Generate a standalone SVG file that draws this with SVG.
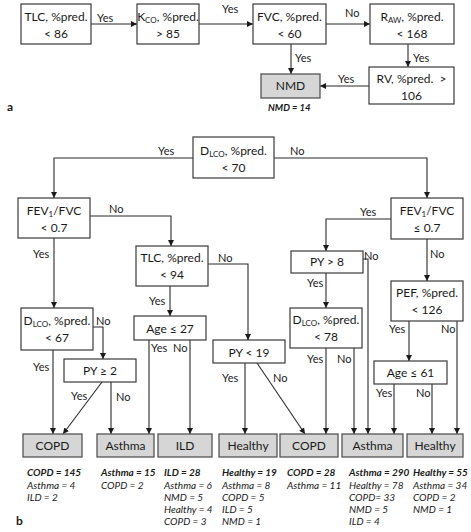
<svg xmlns="http://www.w3.org/2000/svg" width="471" height="532" viewBox="0 0 471 532">
<style>
text{font-family:Lato,"Liberation Sans",sans-serif;fill:#1a1a1a}
.bx{fill:#fff;stroke:#3a3a3a;stroke-width:1.2}
.lf{fill:#d6d6d6;stroke:#555;stroke-width:1.3}
.t{font-size:12px;text-anchor:middle}
.l{font-size:11px}
.c{font-size:10px;font-style:italic}
.cb{font-size:10px;font-style:italic;font-weight:bold}
.cn path,.cn polyline,.cn line{fill:none;stroke:#2a2a2a;stroke-width:1.1;marker-end:url(#ah)}
.sub{font-size:8px}
.pl{font-size:12px;font-weight:bold}
</style>
<defs>
<marker id="ah" markerUnits="userSpaceOnUse" markerWidth="8" markerHeight="8" refX="6" refY="3" orient="auto">
<path d="M0,0 L6,3 L0,6 Z" fill="#1a1a1a"/>
</marker>
</defs>
<rect width="471" height="532" fill="#fff"/>

<g id="connectors" class="cn">
<!-- part a -->
<line x1="91" y1="24" x2="137" y2="24"/>
<line x1="199" y1="24" x2="253" y2="24"/>
<line x1="326" y1="24" x2="370" y2="24"/>
<line x1="291" y1="44" x2="291" y2="74"/>
<line x1="408" y1="44" x2="408" y2="67"/>
<line x1="369" y1="86" x2="320" y2="86"/>
<!-- part b -->
<polyline points="193,158 54,158 54,198"/>
<polyline points="274,158 427,158 427,198"/>
<polyline points="90,216 171,216 171,246"/>
<line x1="54" y1="238" x2="54" y2="308"/>
<polyline points="208,264 248,264 248,340"/>
<line x1="170" y1="286" x2="170" y2="316"/>
<line x1="149" y1="340" x2="149" y2="434"/>
<line x1="190" y1="340" x2="190" y2="434"/>
<polyline points="93,327 103,327 103,359"/>
<line x1="53" y1="350" x2="53" y2="434"/>
<line x1="102" y1="382" x2="63" y2="434"/>
<line x1="111" y1="382" x2="111" y2="434"/>
<line x1="245" y1="363" x2="245" y2="434"/>
<line x1="257" y1="363" x2="305" y2="434"/>
<line x1="326" y1="348" x2="326" y2="434"/>
<line x1="354" y1="348" x2="354" y2="434"/>
<polyline points="391,219 326,219 326,251"/>
<line x1="326" y1="273" x2="326" y2="308"/>
<polyline points="363,259 368,259 368,434"/>
<line x1="427" y1="239" x2="427" y2="281"/>
<line x1="409" y1="321" x2="409" y2="361"/>
<line x1="457" y1="321" x2="457" y2="434"/>
<line x1="394" y1="384" x2="394" y2="434"/>
<line x1="432" y1="384" x2="432" y2="434"/>
</g>

<g id="edge-labels" class="l">
<text x="97" y="22">Yes</text>
<text x="222" y="13">Yes</text>
<text x="345" y="17">No</text>
<text x="295" y="62">Yes</text>
<text x="413" y="62">Yes</text>
<text x="338" y="83">Yes</text>
<text x="158" y="155">Yes</text>
<text x="290" y="155">No</text>
<text x="109" y="213">No</text>
<text x="33" y="258">Yes</text>
<text x="218" y="262">No</text>
<text x="149" y="305">Yes</text>
<text x="151" y="352">Yes</text>
<text x="173" y="352">No</text>
<text x="96" y="325">No</text>
<text x="33" y="371">Yes</text>
<text x="71" y="400">Yes</text>
<text x="116" y="401">No</text>
<text x="222" y="382">Yes</text>
<text x="273" y="382">No</text>
<text x="307" y="363">Yes</text>
<text x="337" y="363">No</text>
<text x="360" y="216">Yes</text>
<text x="307" y="287">Yes</text>
<text x="364" y="260">No</text>
<text x="430" y="258">No</text>
<text x="389" y="333">Yes</text>
<text x="441" y="333">No</text>
<text x="376" y="397">Yes</text>
<text x="416" y="397">No</text>
</g>

<!-- part a nodes -->
<g id="a-tlc"><rect class="bx" x="21" y="4" width="70" height="40"/>
<text class="t" x="56" y="21">TLC, %pred.</text><text class="t" x="56" y="38">&lt; 86</text></g>
<g id="a-kco"><rect class="bx" x="137" y="4" width="62" height="40"/>
<text class="t" x="168" y="21">K<tspan class="sub" dy="2">CO</tspan><tspan dy="-2">, %pred.</tspan></text><text class="t" x="168" y="38">&gt; 85</text></g>
<g id="a-fvc"><rect class="bx" x="253" y="4" width="73" height="40"/>
<text class="t" x="289.5" y="21">FVC, %pred.</text><text class="t" x="289.5" y="38">&lt; 60</text></g>
<g id="a-raw"><rect class="bx" x="370" y="4" width="84" height="40"/>
<text class="t" x="412" y="21">R<tspan class="sub" dy="2">AW</tspan><tspan dy="-2">, %pred.</tspan></text><text class="t" x="412" y="38">&lt; 168</text></g>
<g id="a-nmd"><rect class="lf" x="261" y="74" width="59" height="24"/>
<text class="t" x="290.5" y="90">NMD</text></g>
<g id="a-rv"><rect class="bx" x="369" y="67" width="85" height="37"/>
<text class="t" x="411.5" y="83" xml:space="preserve">RV, %pred.  &gt;</text><text class="t" x="411.5" y="100">106</text></g>
<text class="cb" x="268" y="111" style="font-size:9.5px">NMD = 14</text>
<text class="pl" x="7" y="111">a</text>

<!-- part b nodes -->
<g id="b-dlco70"><rect class="bx" x="193" y="137" width="81" height="41"/>
<text class="t" x="233.5" y="155">D<tspan class="sub" dy="2">LCO</tspan><tspan dy="-2">, %pred.</tspan></text><text class="t" x="233.5" y="172">&lt; 70</text></g>
<g id="b-fev-l"><rect class="bx" x="18" y="198" width="72" height="40"/>
<text class="t" x="54" y="215">FEV<tspan class="sub" dy="2">1</tspan><tspan dy="-2">/FVC</tspan></text><text class="t" x="54" y="232">&lt; 0.7</text></g>
<g id="b-tlc"><rect class="bx" x="136" y="246" width="72" height="40"/>
<text class="t" x="172" y="262">TLC, %pred.</text><text class="t" x="172" y="279">&lt; 94</text></g>
<g id="b-age27"><rect class="bx" x="134" y="316" width="72" height="24"/>
<text class="t" x="170" y="333">Age ≤ 27</text></g>
<g id="b-dlco67"><rect class="bx" x="21" y="308" width="72" height="42"/>
<text class="t" x="57" y="325">D<tspan class="sub" dy="2">LCO</tspan><tspan dy="-2">, %pred.</tspan></text><text class="t" x="57" y="342">&lt; 67</text></g>
<g id="b-py2"><rect class="bx" x="64" y="359" width="72" height="23"/>
<text class="t" x="100" y="375">PY ≥ 2</text></g>
<g id="b-py19"><rect class="bx" x="213" y="340" width="72" height="23"/>
<text class="t" x="249" y="357">PY &lt; 19</text></g>
<g id="b-fev-r"><rect class="bx" x="391" y="198" width="72" height="41"/>
<text class="t" x="427" y="215">FEV<tspan class="sub" dy="2">1</tspan><tspan dy="-2">/FVC</tspan></text><text class="t" x="427" y="232">≤ 0.7</text></g>
<g id="b-py8"><rect class="bx" x="291" y="251" width="72" height="22"/>
<text class="t" x="327" y="266">PY &gt; 8</text></g>
<g id="b-dlco78"><rect class="bx" x="290" y="308" width="72" height="40"/>
<text class="t" x="326" y="324">D<tspan class="sub" dy="2">LCO</tspan><tspan dy="-2">, %pred.</tspan></text><text class="t" x="326" y="341">&lt; 78</text></g>
<g id="b-pef"><rect class="bx" x="391" y="281" width="72" height="40"/>
<text class="t" x="427" y="297">PEF, %pred.</text><text class="t" x="427" y="314">&lt; 126</text></g>
<g id="b-age61"><rect class="bx" x="374" y="361" width="73" height="23"/>
<text class="t" x="410.5" y="377">Age ≤ 61</text></g>

<!-- leaves -->
<g id="leaf-copd1"><rect class="lf" x="23" y="434" width="59" height="23"/><text class="t" x="52.5" y="450">COPD</text>
<text class="cb" x="27" y="476">COPD = 145</text><text class="c" x="27" y="489">Asthma = 4</text><text class="c" x="27" y="501">ILD = 2</text></g>
<g id="leaf-asthma1"><rect class="lf" x="97" y="434" width="57" height="23"/><text class="t" x="125.5" y="450">Asthma</text>
<text class="cb" x="101" y="476">Asthma = 15</text><text class="c" x="101" y="489">COPD = 2</text></g>
<g id="leaf-ild"><rect class="lf" x="158" y="434" width="54" height="23"/><text class="t" x="185" y="450">ILD</text>
<text class="cb" x="164" y="476">ILD = 28</text><text class="c" x="164" y="489">Asthma = 6</text><text class="c" x="164" y="501">NMD = 5</text><text class="c" x="164" y="513">Healthy = 4</text><text class="c" x="164" y="525">COPD = 3</text></g>
<g id="leaf-healthy1"><rect class="lf" x="219" y="434" width="58" height="23"/><text class="t" x="248" y="450">Healthy</text>
<text class="cb" x="222" y="476">Healthy = 19</text><text class="c" x="222" y="489">Asthma = 8</text><text class="c" x="222" y="501">COPD = 5</text><text class="c" x="222" y="513">ILD = 5</text><text class="c" x="222" y="525">NMD = 1</text></g>
<g id="leaf-copd2"><rect class="lf" x="280" y="434" width="58" height="23"/><text class="t" x="309" y="450">COPD</text>
<text class="cb" x="287" y="476">COPD = 28</text><text class="c" x="287" y="489">Asthma = 11</text></g>
<g id="leaf-asthma2"><rect class="lf" x="342" y="434" width="61" height="23"/><text class="t" x="372.5" y="450">Asthma</text>
<text class="cb" x="349" y="476">Asthma = 290</text><text class="c" x="349" y="489">Healthy = 78</text><text class="c" x="349" y="501">COPD= 33</text><text class="c" x="349" y="513">NMD = 5</text><text class="c" x="349" y="525">ILD = 4</text></g>
<g id="leaf-healthy2"><rect class="lf" x="407" y="434" width="56" height="23"/><text class="t" x="435" y="450">Healthy</text>
<text class="cb" x="413" y="476">Healthy = 55</text><text class="c" x="413" y="489">Asthma = 34</text><text class="c" x="413" y="501">COPD = 2</text><text class="c" x="413" y="513">NMD = 1</text></g>
<text class="pl" x="16" y="525">b</text>
</svg>
